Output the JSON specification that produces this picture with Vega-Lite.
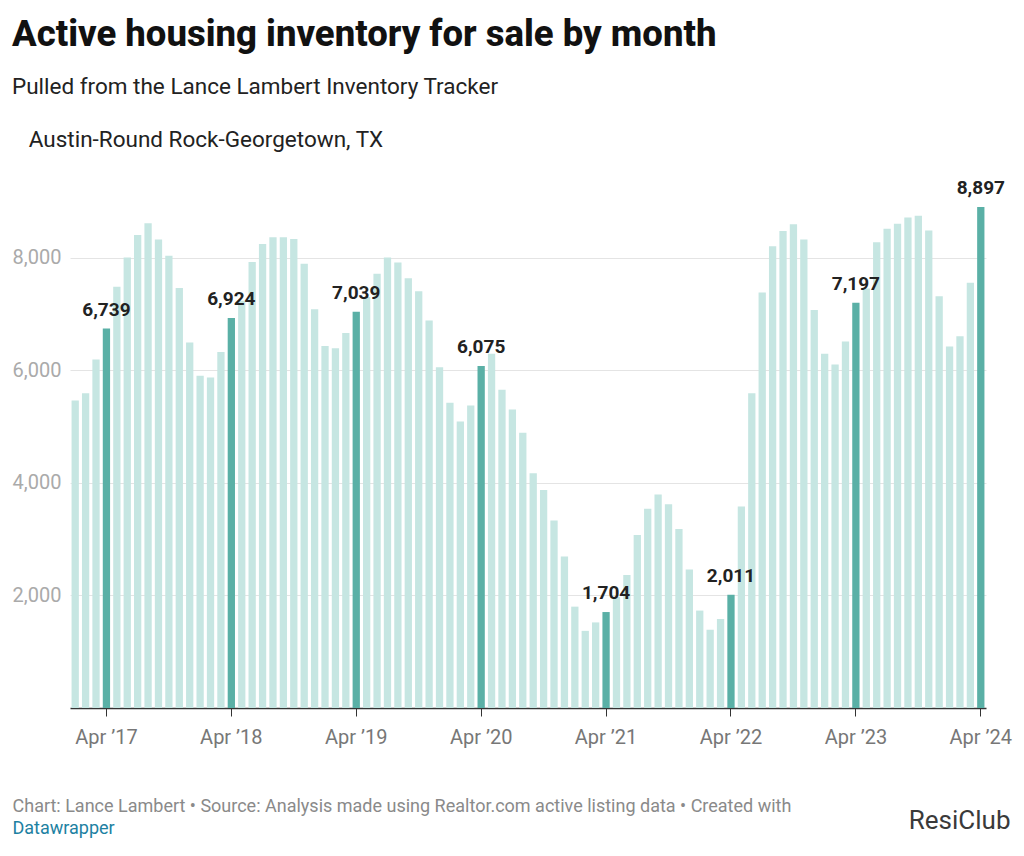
{
  "$schema": "https://vega.github.io/schema/vega-lite/v6.json",
  "width": 916,
  "height": 501,
  "padding": {"left": 12, "top": 17, "right": 10, "bottom": 10},
  "background": "white",
  "config": {
    "font": "Roboto",
    "view": {"stroke": null},
    "axis": {"labelFont": "Roboto", "titleFont": "Roboto"}
  },
  "title": {
    "text": "Active housing inventory for sale by month",
    "subtitle": ["Pulled from the Lance Lambert Inventory Tracker", "\u200b\u00a0\u00a0\u00a0Austin-Round Rock-Georgetown, TX"],
    "anchor": "start",
    "frame": "bounds",
    "fontSize": 36.5,
    "fontWeight": 800,
    "color": "#111111",
    "subtitleFontSize": 22.5,
    "subtitleColor": "#222222",
    "subtitleLineHeight": 53,
    "subtitlePadding": 22,
    "offset": 28
  },
  "data": {
    "values": [
      {"date": "2017-01", "value": 5460}, {"date": "2017-02", "value": 5590}, {"date": "2017-03", "value": 6190}, {"date": "2017-04", "value": 6739},
      {"date": "2017-05", "value": 7480}, {"date": "2017-06", "value": 8000}, {"date": "2017-07", "value": 8400}, {"date": "2017-08", "value": 8610},
      {"date": "2017-09", "value": 8320}, {"date": "2017-10", "value": 8030}, {"date": "2017-11", "value": 7460}, {"date": "2017-12", "value": 6490},
      {"date": "2018-01", "value": 5900}, {"date": "2018-02", "value": 5870}, {"date": "2018-03", "value": 6320}, {"date": "2018-04", "value": 6924},
      {"date": "2018-05", "value": 7230}, {"date": "2018-06", "value": 7920}, {"date": "2018-07", "value": 8240}, {"date": "2018-08", "value": 8360},
      {"date": "2018-09", "value": 8360}, {"date": "2018-10", "value": 8330}, {"date": "2018-11", "value": 7890}, {"date": "2018-12", "value": 7080},
      {"date": "2019-01", "value": 6430}, {"date": "2019-02", "value": 6390}, {"date": "2019-03", "value": 6660}, {"date": "2019-04", "value": 7039},
      {"date": "2019-05", "value": 7300}, {"date": "2019-06", "value": 7710}, {"date": "2019-07", "value": 8000}, {"date": "2019-08", "value": 7910},
      {"date": "2019-09", "value": 7630}, {"date": "2019-10", "value": 7400}, {"date": "2019-11", "value": 6880}, {"date": "2019-12", "value": 6050},
      {"date": "2020-01", "value": 5420}, {"date": "2020-02", "value": 5090}, {"date": "2020-03", "value": 5370}, {"date": "2020-04", "value": 6075},
      {"date": "2020-05", "value": 6290}, {"date": "2020-06", "value": 5650}, {"date": "2020-07", "value": 5300}, {"date": "2020-08", "value": 4890},
      {"date": "2020-09", "value": 4170}, {"date": "2020-10", "value": 3870}, {"date": "2020-11", "value": 3330}, {"date": "2020-12", "value": 2690},
      {"date": "2021-01", "value": 1800}, {"date": "2021-02", "value": 1370}, {"date": "2021-03", "value": 1520}, {"date": "2021-04", "value": 1704},
      {"date": "2021-05", "value": 1970}, {"date": "2021-06", "value": 2360}, {"date": "2021-07", "value": 3070}, {"date": "2021-08", "value": 3540},
      {"date": "2021-09", "value": 3790}, {"date": "2021-10", "value": 3620}, {"date": "2021-11", "value": 3180}, {"date": "2021-12", "value": 2460},
      {"date": "2022-01", "value": 1730}, {"date": "2022-02", "value": 1390}, {"date": "2022-03", "value": 1580}, {"date": "2022-04", "value": 2011},
      {"date": "2022-05", "value": 3580}, {"date": "2022-06", "value": 5590}, {"date": "2022-07", "value": 7380}, {"date": "2022-08", "value": 8200},
      {"date": "2022-09", "value": 8470}, {"date": "2022-10", "value": 8590}, {"date": "2022-11", "value": 8320}, {"date": "2022-12", "value": 7070},
      {"date": "2023-01", "value": 6290}, {"date": "2023-02", "value": 6100}, {"date": "2023-03", "value": 6510}, {"date": "2023-04", "value": 7197},
      {"date": "2023-05", "value": 7450}, {"date": "2023-06", "value": 8270}, {"date": "2023-07", "value": 8510}, {"date": "2023-08", "value": 8600},
      {"date": "2023-09", "value": 8710}, {"date": "2023-10", "value": 8740}, {"date": "2023-11", "value": 8480}, {"date": "2023-12", "value": 7310},
      {"date": "2024-01", "value": 6420}, {"date": "2024-02", "value": 6600}, {"date": "2024-03", "value": 7550}, {"date": "2024-04", "value": 8897}
    ]
  },
  "resolve": {"axis": {"x": "independent"}},
  "layer": [
    {
      "transform": [{"filter": "slice(datum.date, 5) != '04'"}],
      "mark": {"type": "bar", "color": "#c6e6e2"},
      "encoding": {
        "x": {
          "field": "date", "type": "ordinal", "sort": "ascending",
          "scale": {"paddingInner": 0.3, "paddingOuter": 0.15},
          "axis": {
            "orient": "bottom",
            "values": ["2017-04", "2018-04", "2019-04", "2020-04", "2021-04", "2022-04", "2023-04", "2024-04"],
            "labelExpr": "'Apr \u2019' + slice(datum.value, 2, 4)",
            "labelAngle": 0,
            "labelFontSize": 20,
            "labelColor": "#777777",
            "labelPadding": 11,
            "tickSize": 8,
            "tickColor": "#333333",
            "domainColor": "#333333",
            "domainWidth": 1.5,
            "grid": false,
            "title": "Chart: Lance Lambert \u2022 Source: Analysis made using Realtor.com active listing data \u2022 Created with",
            "titleFontSize": 18,
            "titleFontWeight": "normal",
            "titleColor": "#8a8a8a",
            "titleAnchor": "start",
            "titleAlign": "left",
            "titleBaseline": "middle",
            "titleX": -58,
            "titleY": 98
          }
        },
        "y": {
          "field": "value", "type": "quantitative",
          "scale": {"domain": [0, 8897], "nice": false},
          "axis": {
            "values": [2000, 4000, 6000, 8000],
            "labelExpr": "format(datum.value, ',.0f')",
            "title": null,
            "domain": false,
            "ticks": false,
            "labelFontSize": 20,
            "labelColor": "#aaaaaa",
            "labelPadding": 9,
            "gridColor": "#e4e4e4",
            "minExtent": 58,
            "maxExtent": 58
          }
        }
      }
    },
    {
      "transform": [{"filter": "slice(datum.date, 5) == '04'"}],
      "mark": {"type": "bar", "color": "#5ab0a6"},
      "encoding": {
        "x": {
          "field": "date", "type": "ordinal", "sort": "ascending",
          "axis": {
            "orient": "bottom",
            "labels": false, "ticks": false, "domain": false, "grid": false,
            "title": "Datawrapper",
            "titleFontSize": 18,
            "titleFontWeight": "normal",
            "titleColor": "#1d81a2",
            "titleAnchor": "start",
            "titleAlign": "left",
            "titleBaseline": "middle",
            "titleX": -58,
            "titleY": 120
          }
        },
        "y": {"field": "value", "type": "quantitative"}
      }
    },
    {
      "transform": [{"filter": "slice(datum.date, 5) == '04'"}],
      "mark": {"type": "text", "baseline": "bottom", "dy": -9, "fontSize": 19, "fontWeight": "bold", "color": "#222222"},
      "encoding": {
        "x": {
          "field": "date", "type": "ordinal", "sort": "ascending",
          "axis": {
            "orient": "bottom",
            "labels": false, "ticks": false, "domain": false, "grid": false,
            "title": "ResiClub",
            "titleFontSize": 26,
            "titleFontWeight": "normal",
            "titleColor": "#3a3a3a",
            "titleAnchor": "end",
            "titleAlign": "right",
            "titleBaseline": "middle",
            "titleX": 940,
            "titleY": 112
          }
        },
        "y": {"field": "value", "type": "quantitative"},
        "text": {"field": "value", "type": "quantitative", "format": ","}
      }
    }
  ]
}
